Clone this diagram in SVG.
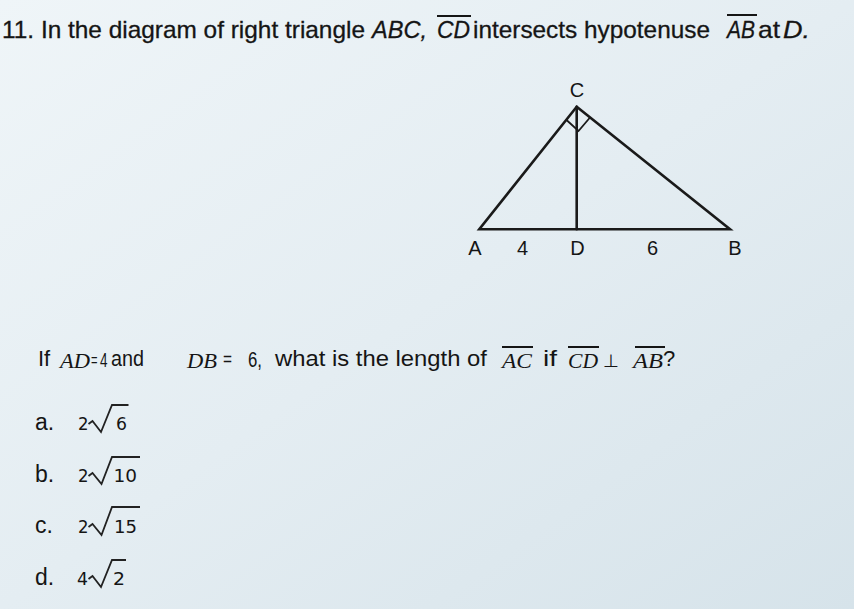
<svg xmlns="http://www.w3.org/2000/svg" width="854" height="609" viewBox="0 0 854 609">
<defs>
<linearGradient id="bg" x1="0" y1="0" x2="1" y2="1">
<stop offset="0" stop-color="#eff5f8"/>
<stop offset="0.5" stop-color="#e4edf2"/>
<stop offset="1" stop-color="#d6e3ea"/>
</linearGradient>
<style>
.t{font-family:"Liberation Sans",Arial,sans-serif;fill:#151515;}
.ti{font-family:"Liberation Sans",Arial,sans-serif;font-style:italic;fill:#151515;}
.si{font-family:"Liberation Serif","Times New Roman",serif;font-style:italic;fill:#151515;}
.m{font-family:"DejaVu Sans",Verdana,sans-serif;fill:#151515;}
.h{font-size:24px;stroke:#151515;stroke-width:0.3;}
.q{font-size:22px;}
.lab{font-family:"Liberation Sans",Arial,sans-serif;font-size:20px;fill:#151515;text-anchor:middle;}
.ol{stroke:#151515;stroke-width:2;fill:none;}
.rad{stroke:#222;stroke-width:1.8;fill:none;stroke-linejoin:miter;}
.side{stroke:#1a1a1a;stroke-width:2.6;fill:none;stroke-linecap:round;}
</style>
</defs>
<rect width="854" height="609" fill="url(#bg)"/>

<g id="title">
<text class="t h" x="2" y="38" textLength="363" lengthAdjust="spacingAndGlyphs">11. In the diagram of right triangle</text>
<text class="ti h" x="372" y="38" textLength="55" lengthAdjust="spacingAndGlyphs">ABC,</text>
<text class="ti h" x="437" y="38" textLength="33" lengthAdjust="spacingAndGlyphs">CD</text>
<line class="ol" x1="437" y1="16" x2="471" y2="16"/>
<text class="t h" x="473" y="38" textLength="237" lengthAdjust="spacingAndGlyphs">intersects hypotenuse</text>
<text class="ti h" x="727" y="38" textLength="28" lengthAdjust="spacingAndGlyphs">AB</text>
<line class="ol" x1="727" y1="15" x2="757" y2="15"/>
<text class="t h" x="758" y="38" textLength="22" lengthAdjust="spacingAndGlyphs">at</text>
<text class="ti h" x="783" y="38" textLength="27" lengthAdjust="spacingAndGlyphs">D.</text>
</g>

<g id="triangle">
<polyline class="side" points="576.7,106.7 479.3,229.3 730,229.3 576.7,106.7"/>
<line class="side" x1="576.7" y1="106.7" x2="576.7" y2="229.3" stroke="#2a1515"/>
<polyline points="566.5,120 578.5,131 590,117.5" fill="none" stroke="#1a1a1a" stroke-width="1.8"/>
</g>

<g id="labels">
<text class="lab" x="577" y="97">C</text>
<text class="lab" x="475" y="255">A</text>
<text class="lab" x="522.5" y="255">4</text>
<text class="lab" x="577.5" y="255">D</text>
<text class="lab" x="652.5" y="255">6</text>
<text class="lab" x="735" y="255">B</text>
</g>

<g id="question">
<text class="t q" x="38" y="366">If</text>
<text class="si q" x="60" y="368" textLength="30" lengthAdjust="spacingAndGlyphs">AD</text>
<text class="t" x="91" y="366" font-size="18" textLength="6.5" lengthAdjust="spacingAndGlyphs">=</text>
<text class="t" x="100" y="367" font-size="20" textLength="7.5" lengthAdjust="spacingAndGlyphs">4</text>
<text class="t q" x="111" y="366" textLength="33" lengthAdjust="spacingAndGlyphs">and</text>
<text class="si q" x="187" y="368" textLength="30" lengthAdjust="spacingAndGlyphs">DB</text>
<text class="t" x="223" y="366" font-size="20" textLength="9" lengthAdjust="spacingAndGlyphs">=</text>
<text class="t" x="248" y="367" font-size="22" textLength="14" lengthAdjust="spacingAndGlyphs">6,</text>
<text class="t q" x="275" y="366" textLength="212" lengthAdjust="spacingAndGlyphs">what is the length of</text>
<text class="si q" x="502" y="368" textLength="30" lengthAdjust="spacingAndGlyphs">AC</text>
<line class="ol" x1="502" y1="347" x2="533" y2="347"/>
<text class="t q" x="543" y="366" textLength="14" lengthAdjust="spacingAndGlyphs">if</text>
<text class="si q" x="568" y="368" textLength="30" lengthAdjust="spacingAndGlyphs">CD</text>
<line class="ol" x1="568" y1="347" x2="599" y2="347"/>
<text class="m" x="603" y="367" font-size="18" textLength="16" lengthAdjust="spacingAndGlyphs">⊥</text>
<text class="si q" x="633" y="368" textLength="30" lengthAdjust="spacingAndGlyphs">AB</text>
<line class="ol" x1="635" y1="347" x2="665" y2="347"/>
<text class="t q" x="663" y="366">?</text>
</g>

<g id="choice-a">
<text class="t" x="35" y="430" font-size="23">a.</text>
<text class="m" x="78" y="430" font-size="18" textLength="10.5" lengthAdjust="spacingAndGlyphs">2</text>
<path class="rad" d="M88.5,424 L92.5,421 L101,432 L112,405 H128.5"/>
<text class="m" x="116" y="430" font-size="18" textLength="11" lengthAdjust="spacingAndGlyphs">6</text>
</g>
<g id="choice-b">
<text class="t" x="35" y="482" font-size="23">b.</text>
<text class="m" x="78" y="482" font-size="18" textLength="10.5" lengthAdjust="spacingAndGlyphs">2</text>
<path class="rad" d="M88.5,476 L92.5,473 L101.5,484 L112,457 H140"/>
<text class="m" x="113.5" y="482" font-size="18" textLength="23.5" lengthAdjust="spacingAndGlyphs">10</text>
</g>
<g id="choice-c">
<text class="t" x="35" y="533" font-size="23">c.</text>
<text class="m" x="78" y="533" font-size="18" textLength="10.5" lengthAdjust="spacingAndGlyphs">2</text>
<path class="rad" d="M88.5,527 L92.5,524 L101.5,535 L112,507 H140"/>
<text class="m" x="114" y="533" font-size="18" textLength="23" lengthAdjust="spacingAndGlyphs">15</text>
</g>
<g id="choice-d">
<text class="t" x="35" y="585" font-size="23">d.</text>
<text class="m" x="77" y="585" font-size="18" textLength="11" lengthAdjust="spacingAndGlyphs">4</text>
<path class="rad" d="M88.5,579 L92.5,576 L101,587 L112,560 H126"/>
<text class="m" x="113" y="585" font-size="18" textLength="12" lengthAdjust="spacingAndGlyphs">2</text>
</g>
</svg>
